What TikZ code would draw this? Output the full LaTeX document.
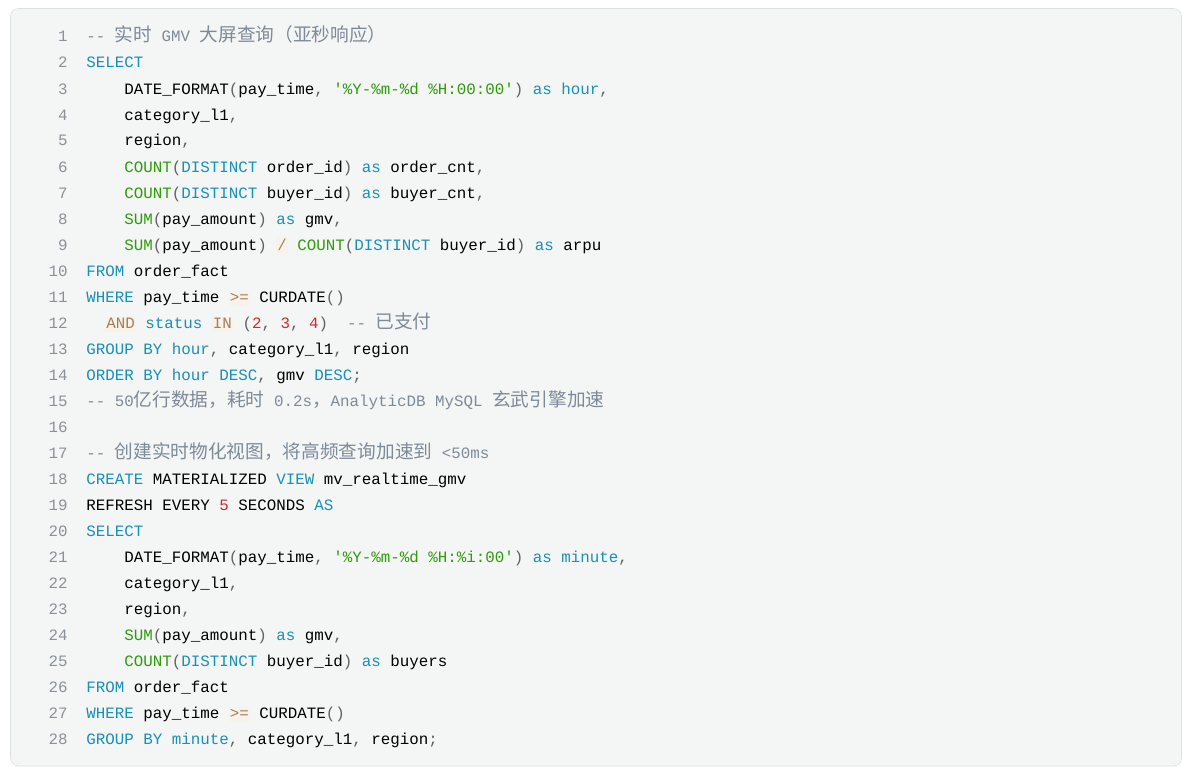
\documentclass[tikz,border=0pt]{standalone}
\usepackage{fontspec}
\setmonofont{Liberation Mono}
\newfontfamily\cjk[Scale=1.18]{Noto Sans CJK SC}
\usetikzlibrary{positioning}
\definecolor{kw}{HTML}{1990B8}
\definecolor{strc}{HTML}{2F9C0A}
\definecolor{numc}{HTML}{C92C2C}
\definecolor{opc}{HTML}{A67F59}
\definecolor{opbg}{HTML}{F8F3EA}
\definecolor{cmt}{HTML}{7D8B99}
\definecolor{pun}{HTML}{5F6364}
\definecolor{lnum}{HTML}{8A9299}
\definecolor{boxbg}{HTML}{F4F5F5}
\definecolor{boxln}{HTML}{DDDFE0}
\newcommand\sqlkw[1]{\textcolor{kw}{#1}}
\newcommand\sqlstr[1]{\textcolor{strc}{#1}}
\newcommand\sqlnum[1]{\textcolor{numc}{#1}}
\newcommand\sqlpn[1]{\textcolor{pun}{#1}}
\newcommand\sqlcmt[1]{\textcolor{cmt}{#1}}
\newcommand\sqlop[1]{{\setlength\fboxsep{0.8pt}\colorbox{opbg}{\textcolor{opc}{\vphantom{Ay}#1}}}}
\newcommand\ind[1]{\hspace*{#1\dimexpr 7.125pt\relax}}

\begin{document}
\begin{tikzpicture}[x=0.75pt, y=-0.75pt,
    codeline/.style={anchor=base west, inner sep=0pt, font=\ttfamily\fontsize{11.875pt}{14pt}\selectfont},
    lineno/.style={anchor=base east, inner sep=0pt, text=lnum, font=\ttfamily\fontsize{11.875pt}{14pt}\selectfont}]
	\useasboundingbox (0,0) rectangle (1182,767);
	\draw[draw=boxln, fill=boxbg, rounded corners=6pt] (10.5,8.5) rectangle (1181.5,766);

	\def\lx{86}
	\foreach \n in {1,...,28}
		\node[lineno] (n\n) at (68, 42+26*\n-26) {\n};

	\node[codeline] (l1) at (\lx, 42) {\sqlcmt{-- {\cjk 实时} GMV {\cjk 大屏查询（亚秒响应）}}};
	\node[codeline] (l2) at (\lx, 68) {\sqlkw{SELECT}};
	\node[codeline] (l3) at (\lx, 94) {\ind4DATE\_FORMAT\sqlpn{(}pay\_time\sqlpn{,} \sqlstr{'\%Y-\%m-\%d \%H:00:00'}\sqlpn{)} \sqlkw{as hour}\sqlpn{,}};
	\node[codeline] (l4) at (\lx, 120) {\ind4category\_l1\sqlpn{,}};
	\node[codeline] (l5) at (\lx, 146) {\ind4region\sqlpn{,}};
	\node[codeline] (l6) at (\lx, 172) {\ind4\textcolor{strc}{COUNT}\sqlpn{(}\sqlkw{DISTINCT} order\_id\sqlpn{)} \sqlkw{as} order\_cnt\sqlpn{,}};
	\node[codeline] (l7) at (\lx, 198) {\ind4\textcolor{strc}{COUNT}\sqlpn{(}\sqlkw{DISTINCT} buyer\_id\sqlpn{)} \sqlkw{as} buyer\_cnt\sqlpn{,}};
	\node[codeline] (l8) at (\lx, 224) {\ind4\textcolor{strc}{SUM}\sqlpn{(}pay\_amount\sqlpn{)} \sqlkw{as} gmv\sqlpn{,}};
	\node[codeline] (l9) at (\lx, 250) {\ind4\textcolor{strc}{SUM}\sqlpn{(}pay\_amount\sqlpn{)} \sqlop{/} \textcolor{strc}{COUNT}\sqlpn{(}\sqlkw{DISTINCT} buyer\_id\sqlpn{)} \sqlkw{as} arpu};
	\node[codeline] (l10) at (\lx, 276) {\sqlkw{FROM} order\_fact};
	\node[codeline] (l11) at (\lx, 302) {\sqlkw{WHERE} pay\_time \sqlop{>=} CURDATE\sqlpn{()}};
	\node[codeline] (l12) at (\lx, 328) {\ind2\sqlop{AND} \sqlkw{status} \sqlop{IN} \sqlpn{(}\sqlnum{2}\sqlpn{,} \sqlnum{3}\sqlpn{,} \sqlnum{4}\sqlpn{)}\ind2\sqlcmt{-- {\cjk 已支付}}};
	\node[codeline] (l13) at (\lx, 354) {\sqlkw{GROUP BY hour}\sqlpn{,} category\_l1\sqlpn{,} region};
	\node[codeline] (l14) at (\lx, 380) {\sqlkw{ORDER BY hour DESC}\sqlpn{,} gmv \sqlkw{DESC}\sqlpn{;}};
	\node[codeline] (l15) at (\lx, 406) {\sqlcmt{-- 50{\cjk 亿行数据，耗时} 0.2s{\cjk ，}AnalyticDB MySQL {\cjk 玄武引擎加速}}};
	\node[codeline] (l17) at (\lx, 458) {\sqlcmt{-- {\cjk 创建实时物化视图，将高频查询加速到} <50ms}};
	\node[codeline] (l18) at (\lx, 484) {\sqlkw{CREATE} MATERIALIZED \sqlkw{VIEW} mv\_realtime\_gmv};
	\node[codeline] (l19) at (\lx, 510) {REFRESH EVERY \sqlnum{5} SECONDS \sqlkw{AS}};
	\node[codeline] (l20) at (\lx, 536) {\sqlkw{SELECT}};
	\node[codeline] (l21) at (\lx, 562) {\ind4DATE\_FORMAT\sqlpn{(}pay\_time\sqlpn{,} \sqlstr{'\%Y-\%m-\%d \%H:\%i:00'}\sqlpn{)} \sqlkw{as minute}\sqlpn{,}};
	\node[codeline] (l22) at (\lx, 588) {\ind4category\_l1\sqlpn{,}};
	\node[codeline] (l23) at (\lx, 614) {\ind4region\sqlpn{,}};
	\node[codeline] (l24) at (\lx, 640) {\ind4\textcolor{strc}{SUM}\sqlpn{(}pay\_amount\sqlpn{)} \sqlkw{as} gmv\sqlpn{,}};
	\node[codeline] (l25) at (\lx, 666) {\ind4\textcolor{strc}{COUNT}\sqlpn{(}\sqlkw{DISTINCT} buyer\_id\sqlpn{)} \sqlkw{as} buyers};
	\node[codeline] (l26) at (\lx, 692) {\sqlkw{FROM} order\_fact};
	\node[codeline] (l27) at (\lx, 718) {\sqlkw{WHERE} pay\_time \sqlop{>=} CURDATE\sqlpn{()}};
	\node[codeline] (l28) at (\lx, 744) {\sqlkw{GROUP BY minute}\sqlpn{,} category\_l1\sqlpn{,} region\sqlpn{;}};
\end{tikzpicture}
\end{document}
